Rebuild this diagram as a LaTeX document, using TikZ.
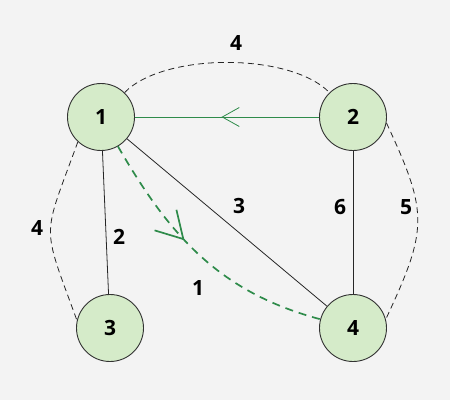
\documentclass[tikz,border=0pt]{standalone}
\usepackage{fontspec}
\setmainfont{Open Sans}
\usetikzlibrary{arrows.meta,decorations.markings}
\definecolor{nodefill}{HTML}{D5EBC9}
\definecolor{treegreen}{HTML}{2E8B4A}
\definecolor{bggray}{HTML}{F3F3F3}

\begin{document}
\begin{tikzpicture}
[x=1pt,y=1pt,line width=0.8pt,
  main node/.style={circle,fill=nodefill,draw=black!80,line width=0.9pt,minimum size=67pt,inner sep=0pt,font=\fontsize{21}{25}\selectfont\bfseries},
  weight/.style={font=\fontsize{21}{25}\selectfont\bfseries},
  alt edge/.style={draw=black!85,dash pattern=on 6pt off 4pt},
  tree edge/.style={draw=treegreen,line width=0.8pt}]
  \fill[bggray] (0,0) rectangle (450,-400);
  \node[main node] (1) at (101,-117) {1};
  \node[main node] (2) at (353,-117) {2};
  \node[main node] (3) at (110,-328) {3};
  \node[main node] (4) at (353,-328) {4};
  % plain edges
  \path[draw=black!85]
    (1) edge (3)
        edge (4)
    (2) edge (4);
  % dashed arcs
  \path[alt edge]
    (1.46) edge[out=46,in=134,looseness=0.7] (2.134)
    (2.-10) edge[out=-65,in=65,looseness=1.3] (4.15)
    (1.-133) edge[out=-110,in=110,looseness=1.5] (3.167);
  % green edges
  \draw[tree edge,postaction={decorate},
    decoration={markings,mark=at position 0.53 with {\arrow{Straight Barb[length=17pt,width=19pt]}}}]
    (2) -- (1);
  \draw[tree edge,line width=1.7pt,dash pattern=on 8pt off 6pt,postaction={decorate},
    decoration={markings,mark=at position 0.42 with {\arrow{Straight Barb[length=26pt,width=30pt]}}}]
    (1) to[out=-60,in=165] (4);
  % weights
  \node[weight] (w12) at (236,-43) {4};
  \node[weight] (w13) at (119,-237) {2};
  \node[weight] (w13b) at (37,-228) {4};
  \node[weight] (w14) at (239,-206) {3};
  \node[weight] (w24) at (340,-207) {6};
  \node[weight] (w24b) at (406,-207) {5};
  \node[weight] (w14b) at (198,-288) {1};
\end{tikzpicture}
\end{document}
